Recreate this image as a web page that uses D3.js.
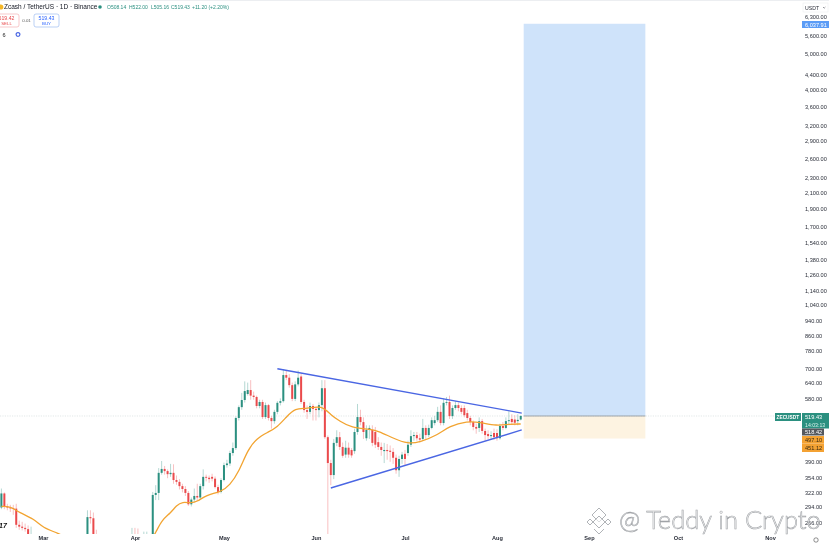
<!DOCTYPE html>
<html>
<head>
<meta charset="utf-8">
<script src="https://cdn.jsdelivr.net/npm/d3@7"></script>
<style>
    html, body { margin: 0; padding: 0; background: #fff; overflow: hidden; }
    svg { display: block; font-family: "Liberation Sans", Arial, sans-serif; filter: blur(0.3px); }
    .tick text { fill: #2a2e39; }
</style>
</head>
<body>
<div id="chart"></div>
<script>
/* ============================================================
   DATA (ZEC/USDT daily candles from 15 Feb)
============================================================ */
const firstDay = "2025-02-15";

const opens = [
    293,320,295,293,292,291,263,260,258,256,
    240,244,240,236,232,235,228,225,230,226,
    222,225,228,224,220,226,230,228,235,240,
    276,274,246,238,232,228,226,224,228,226,
    222,220,224,226,232,236,234,230,228,232,
    236,248,317,321,364,373,368,361,364,348,
    344,335,329,321,299,308,315,312,335,355,
    353,355,351,333,323,348,382,386,412,425,
    513,549,574,596,611,590,585,553,567,516,
    556,513,503,533,564,570,671,660,630,578,
    633,665,567,539,533,553,543,539,556,618,
    455,387,359,439,455,428,408,426,420,417,
    470,516,500,452,476,476,470,441,428,417,
    420,418,415,400,370,397,410,412,434,458,
    461,452,450,482,461,482,497,506,533,497,
    564,567,519,546,556,546,546,529,513,500,
    485,482,503,473,464,458,467,467,452,488,
    482,503,510,508,503,508
];
const closes = [
    320,295,293,292,291,263,260,258,256,248,
    244,240,236,232,235,228,225,230,226,222,
    225,228,224,220,226,230,228,235,240,276,
    274,246,245,232,228,226,224,228,226,222,
    220,224,226,232,236,234,230,228,232,236,
    245,317,321,364,373,368,361,364,348,344,
    335,329,321,299,308,315,312,335,355,353,
    350,351,333,323,348,382,386,412,425,513,
    549,574,607,611,590,585,553,567,516,556,
    513,503,533,564,570,671,660,630,578,633,
    660,567,539,533,553,543,539,556,618,455,
    387,359,439,455,428,405,426,408,406,470,
    516,500,470,476,482,439,434,428,420,420,
    417,415,400,370,397,408,397,434,458,461,
    452,448,482,461,482,506,506,533,497,564,
    567,519,546,556,546,533,522,513,500,485,
    480,503,473,461,458,461,455,452,488,482,
    503,506,500,498,507,519.43
];
const highs = [
    330,322,300,298,298,300,270,268,265,262,
    260,244,242,238,238,236,232,234,232,228,
    230,232,230,226,230,234,236,240,244,288,
    288,284,255,240,236,232,230,232,232,228,
    226,228,232,236,258,258,257,236,252,252,
    246,323,337,375,392,380,372,385,384,358,
    350,340,335,325,312,330,340,340,372,360,
    358,362,356,338,352,388,395,418,440,518,
    555,600,645,640,650,605,590,575,575,565,
    560,520,540,570,580,696,690,675,640,645,
    690,675,575,555,565,560,550,565,650,650,
    460,395,450,475,470,440,445,440,425,480,
    560,540,515,490,490,490,485,455,440,439,
    436,432,425,408,405,415,420,445,475,470,
    470,465,510,490,492,515,520,550,555,580,
    585,590,555,570,565,555,555,540,520,505,
    495,515,510,480,475,472,480,478,495,500,
    515,535,525,522,525,522
];
const lows = [
    290,290,288,285,280,258,255,254,252,240,
    232,236,232,228,230,224,220,224,222,218,
    218,222,220,216,218,224,224,228,234,235,
    265,240,235,226,224,222,220,222,220,218,
    216,218,222,226,228,230,226,224,224,228,
    232,240,307,307,360,360,352,355,340,338,
    328,322,315,296,295,303,305,308,328,345,
    342,345,330,318,320,345,376,380,405,420,
    505,540,565,590,575,575,545,545,510,510,
    505,480,495,525,555,565,650,620,570,570,
    625,560,530,510,525,505,505,515,535,450,
    240,337,350,430,420,400,400,400,400,410,
    462,490,450,445,450,430,425,420,405,387,
    395,390,385,362,355,385,380,405,428,445,
    445,440,445,450,455,478,490,500,490,490,
    555,510,510,540,535,525,515,505,490,475,
    465,470,465,445,450,447,447,445,448,475,
    478,490,492,490,490,505.16
];

// orange moving average, sampled by day number from firstDay
const maDays = [0,3,6,11,14,19,24,34,44,50,52,54,57,59,61,64,66,69,74,77,80,83,86,90,93,96,99,103,108,111,114,118,124,127,132,137,141,147,151,157,161,167,171,175];
const maPrices = [295,295,284,273,258,250,238,223,220,236,250,271,283,297,304,301,304,317,323,337,366,420,452,470,485,516,546,543,556,522,503,482,479,473,452,436,441,461,488,503,500,488,494,494];

// triangle trendlines
const upperDays = [93, 175];
const upperPrices = [698, 529];
const lowerDays = [111, 175];
const lowerPrices = [331, 476];

// long position tool
const positionDays = [176, 217];
const entryPrice = 519.43;
const targetPrice = 6037.91;
const stopPrice = 451.12;

const priceTicks = [6300,5600,5000,4400,4000,3600,3200,2900,2600,2300,2100,1900,1700,1540,1380,1260,1140,1040,940,860,780,700,640,580,390,354,322,294,266];
const timeTicks = ["2025-03-01","2025-04-01","2025-05-01","2025-06-01","2025-07-01","2025-08-01","2025-09-01","2025-10-01","2025-11-01"];

const ohlcLabels = ["O508.14", "H522.00", "L505.16", "C519.43", "+11.20 (+2.20%)"];

/* ============================================================
   SVG, SCALES
============================================================ */
const w = 829, h = 546;
const plotBottom = 534;
const UP = "#2b9080", DOWN = "#ea4a4c";

const svg = d3.select("#chart").append("svg")
    .attr("width", w)
    .attr("height", h);

const day = i => d3.utcDay.offset(new Date(firstDay + "T00:00:00Z"), i);

const xScale = d3.scaleUtc()
    .domain([day(0), new Date("2025-11-01T00:00:00Z")])
    .range([1.4, 770]);

const yScale = d3.scaleLog()
    .domain([266, 5600])
    .range([523, 35.8]);

svg.append("defs").append("clipPath")
    .attr("id", "plot")
    .append("rect")
    .attr("width", 800)
    .attr("height", plotBottom);

const g = svg.append("g").attr("clip-path", "url(#plot)");

/* ============================================================
   POSITION BOX, LAST PRICE LINE
============================================================ */
const boxX0 = xScale(day(positionDays[0]));
const boxX1 = xScale(day(positionDays[1]));

g.append("rect")
    .attr("x", boxX0)
    .attr("y", yScale(targetPrice))
    .attr("width", boxX1 - boxX0)
    .attr("height", yScale(entryPrice) - yScale(targetPrice))
    .attr("fill", "#cfe3fa");

g.append("rect")
    .attr("x", boxX0)
    .attr("y", yScale(entryPrice))
    .attr("width", boxX1 - boxX0)
    .attr("height", yScale(stopPrice) - yScale(entryPrice))
    .attr("fill", "#fdf3e1");

g.append("line")
    .attr("x1", 0)
    .attr("x2", 800)
    .attr("y1", yScale(entryPrice))
    .attr("y2", yScale(entryPrice))
    .attr("stroke", "#cfd8d6")
    .attr("stroke-width", 0.6)
    .attr("stroke-dasharray", "1.2 1.2");

g.append("line")
    .attr("x1", boxX0)
    .attr("x2", boxX1)
    .attr("y1", yScale(entryPrice))
    .attr("y2", yScale(entryPrice))
    .attr("stroke", "#8b949c")
    .attr("stroke-width", 0.8);

/* ============================================================
   CANDLES
============================================================ */
const candles = d3.range(closes.length).map(i => ({
    date: day(i), o: opens[i], h: highs[i], l: lows[i], c: closes[i]
}));
const color = d => d.c >= d.o ? UP : DOWN;

g.selectAll("line.wick")
    .data(candles)
    .join("line")
    .attr("class", "wick")
    .attr("x1", d => xScale(d.date))
    .attr("x2", d => xScale(d.date))
    .attr("y1", d => yScale(d.h))
    .attr("y2", d => yScale(d.l))
    .attr("stroke", color)
    .attr("stroke-opacity", 0.5)
    .attr("stroke-width", 0.7);

g.selectAll("rect.body")
    .data(candles)
    .join("rect")
    .attr("class", "body")
    .attr("x", d => xScale(d.date) - 1)
    .attr("width", 2)
    .attr("y", d => yScale(Math.max(d.o, d.c)))
    .attr("height", d => Math.max(0.8, Math.abs(yScale(d.o) - yScale(d.c))))
    .attr("fill", color);

/* ============================================================
   MOVING AVERAGE, TRENDLINES
============================================================ */
g.append("path")
    .datum(maDays.map((d, i) => [day(d), maPrices[i]]))
    .attr("fill", "none")
    .attr("stroke", "#f2a431")
    .attr("stroke-width", 1.3)
    .attr("d", d3.line()
        .x(d => xScale(d[0]))
        .y(d => yScale(d[1]))
        .curve(d3.curveBasis));

[[upperDays, upperPrices], [lowerDays, lowerPrices]].forEach(([days, prices]) => {
    g.append("line")
        .attr("x1", xScale(day(days[0])))
        .attr("y1", yScale(prices[0]))
        .attr("x2", xScale(day(days[1])) + 1)
        .attr("y2", yScale(prices[1]))
        .attr("stroke", "#4a66e3")
        .attr("stroke-width", 1.4);
});

/* ============================================================
   AXES
============================================================ */
const yAxis = svg.append("g")
    .attr("transform", "translate(805,0)")
    .call(d3.axisRight(yScale)
        .tickValues(priceTicks)
        .tickFormat(d3.format(",.2f"))
        .tickSize(0)
        .tickPadding(0));
yAxis.select(".domain").remove();
yAxis.selectAll("text").attr("font-size", 5.6).attr("font-family", "Liberation Sans");

const xAxis = svg.append("g")
    .attr("transform", `translate(0,${plotBottom})`)
    .call(d3.axisBottom(xScale)
        .tickValues(timeTicks.map(d => new Date(d + "T00:00:00Z")))
        .tickFormat(d3.utcFormat("%b"))
        .tickSize(0)
        .tickPadding(2));
xAxis.select(".domain").remove();
xAxis.selectAll("text")
    .attr("font-size", 5.6)
    .attr("font-weight", 700)
    .attr("font-family", "Liberation Sans");

/* ============================================================
   PRICE LABELS ON THE RIGHT
============================================================ */
function priceTag(y0, y1, x0, x1, fill, label, textFill, size = 5.6) {
    svg.append("rect")
        .attr("x", x0).attr("y", y0)
        .attr("width", x1 - x0).attr("height", y1 - y0)
        .attr("fill", fill);
    svg.append("text")
        .attr("x", x0 + 3).attr("y", (y0 + y1) / 2 + 2)
        .attr("font-size", size)
        .attr("fill", textFill)
        .text(label);
}

priceTag(21, 28, 802, 829, "#5b9cf6", "6,037.91", "#fff");
priceTag(413, 421, 802, 829, "#2b9080", "519.43", "#fff");
priceTag(421, 428.5, 802, 829, "#2b9080", "14:03:13", "#d8f0ea", 5.2);
priceTag(428.5, 435.5, 802, 824, "#55585e", "518.42", "#fff");
priceTag(436, 443.5, 802, 824, "#f4a233", "497.10", "#3a2a10");
priceTag(443.5, 452, 802, 824, "#f4a233", "451.12", "#3a2a10");
svg.append("rect").attr("x", 775).attr("y", 413).attr("width", 26).attr("height", 8).attr("fill", "#2b9080");
svg.append("text").attr("x", 776.5).attr("y", 419).attr("font-size", 4.8).attr("font-weight", 700)
    .attr("fill", "#fff").text("ZECUSDT");

// USDT selector, settings icon
svg.append("rect").attr("x", 803).attr("y", 3).attr("width", 25).attr("height", 9)
    .attr("fill", "#fff").attr("stroke", "#e8e9ec").attr("stroke-width", 0.5);
svg.append("text").attr("x", 805).attr("y", 9.5).attr("font-size", 5.2).attr("fill", "#2a2e39").text("USDT");
svg.append("path").attr("d", "M823 7l1.2 1.2 1.2-1.2").attr("fill", "none").attr("stroke", "#2a2e39").attr("stroke-width", 0.5);
svg.append("circle").attr("cx", 816).attr("cy", 540).attr("r", 2.2)
    .attr("fill", "none").attr("stroke", "#444").attr("stroke-width", 0.6);

/* ============================================================
   HEADER
============================================================ */
svg.append("line").attr("x1", 0).attr("x2", w).attr("y1", 0.5).attr("y2", 0.5).attr("stroke", "#eceef1");
svg.append("circle").attr("cx", 0.8).attr("cy", 7).attr("r", 2.6).attr("fill", "#f4b728");
svg.append("text").attr("x", 4).attr("y", 9.3)
    .attr("font-size", 6.5).attr("fill", "#131722")
    .text("Zcash / TetherUS · 1D · Binance");
svg.append("circle").attr("cx", 100).attr("cy", 7).attr("r", 1.8).attr("fill", "#2b9080");

svg.selectAll("text.ohlc")
    .data(ohlcLabels)
    .join("text")
    .attr("class", "ohlc")
    .attr("x", (d, i) => [107, 129, 151, 171, 192][i])
    .attr("y", 9)
    .attr("font-size", 5)
    .attr("fill", "#2b9080")
    .text(d => d);

function tradeButton(x, bw, stroke, fill, top, bottom) {
    svg.append("rect").attr("x", x).attr("y", 14).attr("width", bw).attr("height", 13).attr("rx", 2)
        .attr("fill", "#fff").attr("stroke", stroke).attr("stroke-width", 0.6);
    svg.append("text").attr("x", x + bw / 2).attr("y", 19.5).attr("text-anchor", "middle")
        .attr("font-size", 5.2).attr("fill", fill).text(top);
    svg.append("text").attr("x", x + bw / 2).attr("y", 25).attr("text-anchor", "middle")
        .attr("font-size", 4.4).attr("fill", fill).text(bottom);
}
tradeButton(-6, 25, "#f2a6a8", "#e8474a", "519.42", "SELL");
tradeButton(34, 25, "#8fb2ef", "#2962ff", "519.43", "BUY");
svg.append("text").attr("x", 26.5).attr("y", 21.5).attr("text-anchor", "middle")
    .attr("font-size", 4.4).attr("fill", "#555").text("0.01");

svg.append("text").attr("x", 2.5).attr("y", 36.5).attr("font-size", 5.6).attr("fill", "#222").text("6");
svg.append("circle").attr("cx", 18).attr("cy", 34.5).attr("r", 1.9)
    .attr("fill", "none").attr("stroke", "#4a66e3").attr("stroke-width", 1.2);

// TradingView mark, bottom left
svg.append("text").attr("x", -1).attr("y", 527.5)
    .attr("font-size", 7).attr("font-weight", 700).attr("font-style", "italic").attr("fill", "#111").text("17");

/* ============================================================
   WATERMARK
============================================================ */
const mark = svg.append("g").attr("transform", "translate(599,522)")
    .attr("fill", "rgba(255,255,255,0.55)")
    .attr("stroke", "#b0b3b7")
    .attr("stroke-width", 1);
mark.append("path").attr("d", "M0 -14L7 -7L0 0L-7 -7Z");
mark.append("path").attr("d", "M0 -6L6 0L0 6L-6 0Z");
mark.append("path").attr("d", "M-9 -3L-6 0L-9 3L-12 0Z");
mark.append("path").attr("d", "M9 -3L12 0L9 3L6 0Z");
mark.append("path").attr("d", "M-5 7L0 12L5 7");

svg.append("text")
    .attr("x", 619)
    .attr("y", 529)
    .attr("font-family", "Lato")
    .attr("font-size", 25.5)
    .attr("font-weight", 300)
    .attr("fill", "rgba(255,255,255,0.5)")
    .attr("stroke", "#a0a3a7")
    .attr("stroke-width", 0.6)
    .text("@ Teddy in Crypto");
</script>
</body>
</html>
